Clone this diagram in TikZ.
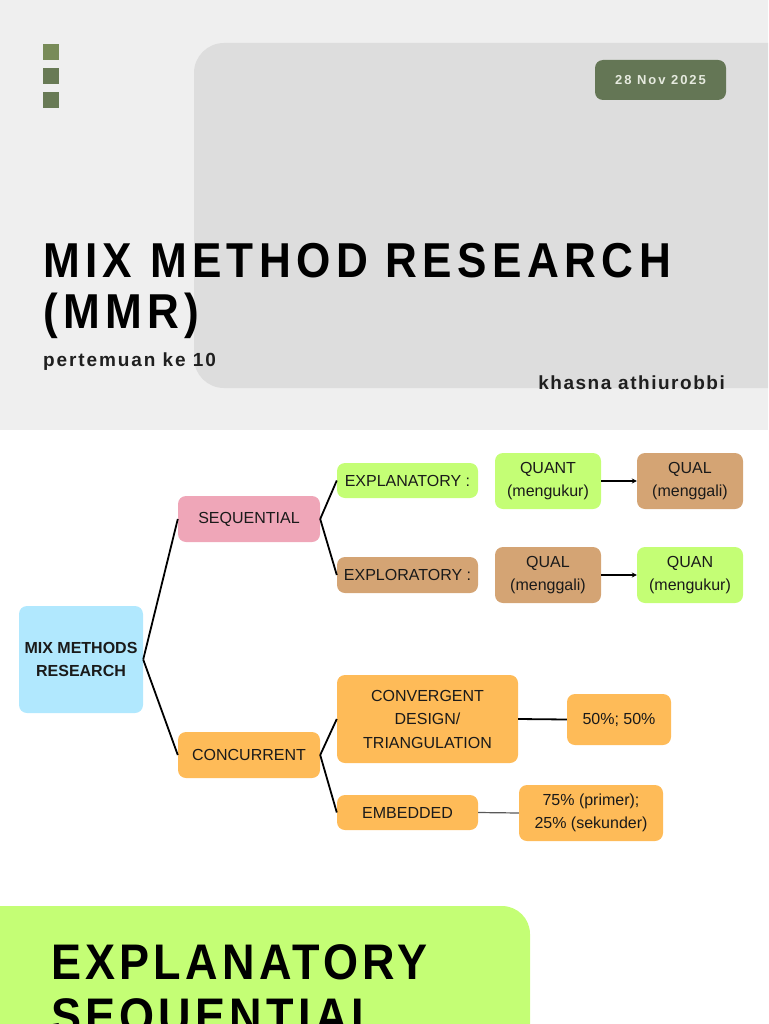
\documentclass[tikz,border=0pt]{standalone}
\usepackage{fontspec}
\usetikzlibrary{arrows.meta}
\newfontfamily\mmfont{Liberation Sans}
\newfontfamily\condfont[FakeStretch=0.9]{Liberation Sans}
\definecolor{topbg}{HTML}{EFEFEF}
\definecolor{graybox}{HTML}{DDDDDD}
\definecolor{olive}{HTML}{647655}
\definecolor{oliveA}{HTML}{788B58}
\definecolor{oliveB}{HTML}{687A55}
\definecolor{datetxt}{HTML}{E6EADF}
\definecolor{lime}{HTML}{C4FE75}
\definecolor{tan}{HTML}{D4A474}
\definecolor{orng}{HTML}{FEBB58}
\definecolor{pink}{HTML}{EFA6B8}
\definecolor{rootblue}{HTML}{B1E8FE}
\definecolor{ink}{HTML}{1A1A1A}
\tikzset{
  mmbox/.style={rounded corners=8, inner sep=0pt, align=center, text=ink,
    font=\mmfont\fontsize{16}{23.5}\selectfont},
  link/.style={draw=black, line width=1.8pt},
  flow/.style={draw=black, line width=1.8pt, -{Stealth[length=5pt,width=5pt]}},
  thinlink/.style={draw=black!65, line width=1.2pt},
  bigtitle/.style={inner sep=0pt, text=black, font=\condfont\bfseries\fontsize{49}{51}\selectfont\addfontfeatures{LetterSpace=11}},
  bottomtitle/.style={inner sep=0pt, text=black, font=\condfont\bfseries\fontsize{50}{52}\selectfont\addfontfeatures{LetterSpace=8.5}},
}
\begin{document}
\begin{tikzpicture}[x=1pt,y=-1pt]
\useasboundingbox (0,0) rectangle (768,1024);
\clip (0,0) rectangle (768,1024);
% top band
\fill[topbg] (0,0) rectangle (768,430);
\fill[graybox, rounded corners=30] (194,43) rectangle (820,388);
\fill[oliveA] (43,44) rectangle (59,60);
\fill[oliveB] (43,68) rectangle (59,84);
\fill[oliveB] (43,92) rectangle (59,108);
\node[fill=olive, rounded corners=8, minimum width=131pt, minimum height=40pt, inner sep=0pt,
  text=datetxt, font=\mmfont\bfseries\fontsize{13}{15}\selectfont\addfontfeatures{LetterSpace=15}]
  (date) at (660.5,80) {28 Nov 2025};
\node[bigtitle, anchor=base west] (title1) at (43,277) {MIX METHOD RESEARCH};
\node[bigtitle, anchor=base west] (title2) at (43,328) {(MMR)};
\node[inner sep=0pt, text=black!88, anchor=base west,
  font=\mmfont\bfseries\fontsize{19}{21}\selectfont\addfontfeatures{LetterSpace=10}] (meet) at (43,366) {pertemuan ke 10};
\node[inner sep=0pt, text=black!88, anchor=base east,
  font=\mmfont\bfseries\fontsize{19}{21}\selectfont\addfontfeatures{LetterSpace=8}] (author) at (725,389) {khasna athiurobbi};
% mind map
\node[mmbox, fill=rootblue, minimum width=124pt, minimum height=107pt,
  font=\mmfont\bfseries\fontsize{16}{23}\selectfont] (root) at (81,659.5) {MIX METHODS\\RESEARCH};
\node[mmbox, fill=pink, minimum width=142pt, minimum height=46pt] (seq) at (249,519) {SEQUENTIAL};
\node[mmbox, fill=orng, minimum width=142pt, minimum height=46pt] (conc) at (249,755) {CONCURRENT};
\node[mmbox, fill=lime, minimum width=141pt, minimum height=35pt] (expla) at (407.5,480.5) {EXPLANATORY :};
\node[mmbox, fill=tan, minimum width=141pt, minimum height=36pt] (explo) at (407.5,575) {EXPLORATORY :};
\node[mmbox, fill=lime, minimum width=106pt, minimum height=56pt] (quant) at (548,481) {QUANT\\(mengukur)};
\node[mmbox, fill=tan, minimum width=106pt, minimum height=56pt] (qualA) at (690,481) {QUAL\\(menggali)};
\node[mmbox, fill=tan, minimum width=106pt, minimum height=56pt] (qualB) at (548,575) {QUAL\\(menggali)};
\node[mmbox, fill=lime, minimum width=106pt, minimum height=56pt] (quan) at (690,575) {QUAN\\(mengukur)};
\node[mmbox, fill=orng, minimum width=181pt, minimum height=88pt] (conv) at (427.5,719) {CONVERGENT\\DESIGN/\\TRIANGULATION};
\node[mmbox, fill=orng, minimum width=104pt, minimum height=51pt] (fifty) at (619,719.5) {50\%; 50\%};
\node[mmbox, fill=orng, minimum width=141pt, minimum height=35pt] (emb) at (407.5,812.5) {EMBEDDED};
\node[mmbox, fill=orng, minimum width=144pt, minimum height=56pt] (ratio) at (591,813) {75\% (primer);\\25\% (sekunder)};
\draw[link] (root.east) -- (seq.west);
\draw[link] (root.east) -- (conc.west);
\draw[link] (seq.east) -- (expla.west);
\draw[link] (seq.east) -- (explo.west);
\draw[link] (conc.east) -- (conv.west);
\draw[link] (conc.east) -- (emb.west);
\draw[flow] (quant.east) -- (qualA.west);
\draw[flow] (qualB.east) -- (quan.west);
\draw[link] (conv.east) -- (fifty.west);
\draw[thinlink] (emb.east) -- (ratio.west);
% bottom panel
\fill[lime, rounded corners=28] (-40,906) rectangle (530,1120);
\node[bottomtitle, anchor=base west] (bottom1) at (51,979) {EXPLANATORY};
\node[bottomtitle, anchor=base west] (bottom2) at (51,1033) {SEQUENTIAL};
\end{tikzpicture}
\end{document}
